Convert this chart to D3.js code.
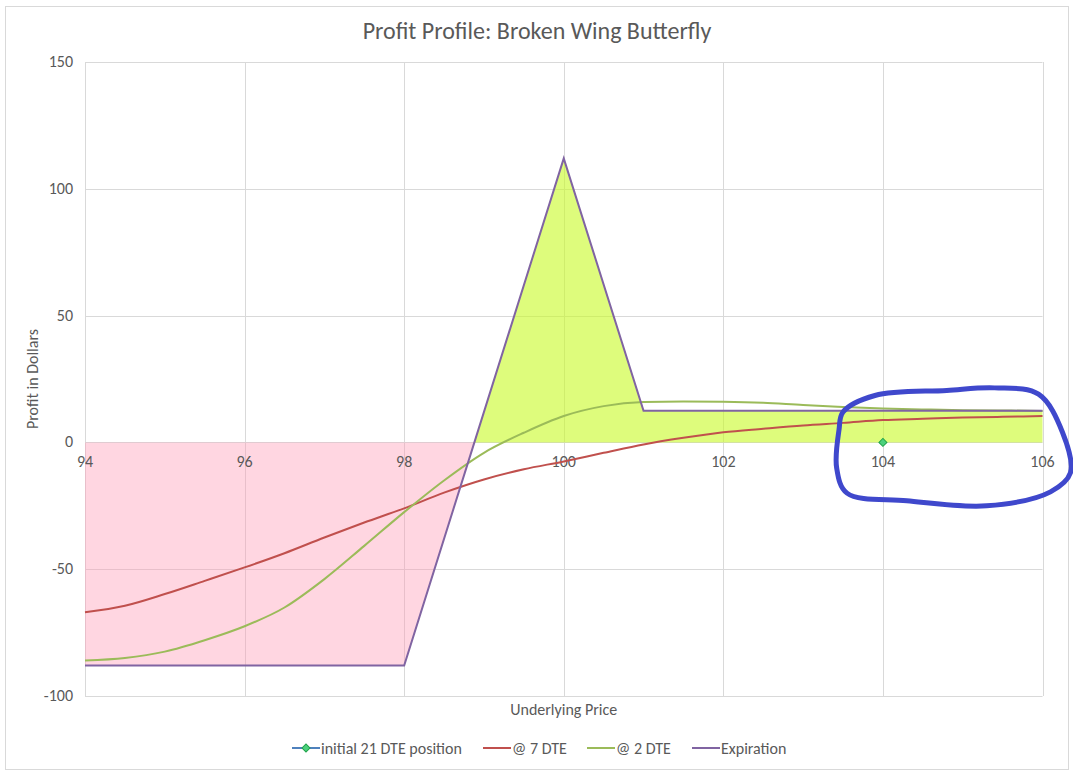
<!DOCTYPE html>
<html>
<head>
<meta charset="utf-8">
<script src="https://cdn.jsdelivr.net/npm/d3@7"></script>
<style>
  body { margin: 0; background: #fff; }
  svg { display: block; font-family: Calibri, Carlito, "Open Sans", "Liberation Sans", sans-serif; }
</style>
</head>
<body>
<div id="chart"></div>
<script>
// underlying prices sampled for the curves
const prices = [94, 94.5, 95, 95.5, 96, 96.5, 97, 97.5, 98, 98.5, 99, 99.5,
                100, 100.5, 101, 101.5, 102, 102.5, 103, 103.5, 104, 104.5, 105, 105.5, 106];

// @ 7 DTE profit
const dte7 = [-67, -64.4, -59.8, -54.6, -49.3, -43.7, -37.5, -31.6, -26, -19.8, -14.6, -10.6,
              -7.5, -4.1, -0.8, 1.8, 4, 5.4, 6.7, 7.7, 8.8, 9.3, 9.8, 10.1, 10.4];

// @ 2 DTE profit
const dte2 = [-86, -85, -82.5, -78, -72.5, -65.1, -53.9, -40.8, -27.5, -15, -4.1, 3.8,
              10.4, 14.3, 15.9, 16.1, 16, 15.6, 14.7, 14, 13.4, 13, 12.7, 12.6, 12.4];

// expiration payoff (breakpoints)
const expPrices = [94, 98, 98.88, 100, 101, 106];
const expProfit = [-88, -88, 0, 112, 12.5, 12.5];

// initial 21 DTE position
const initPrice = [104];
const initProfit = [0];

const xTicks = [94, 96, 98, 100, 102, 104, 106];
const yTicks = [-100, -50, 0, 50, 100, 150];

const legendNames = ["initial 21 DTE position", "@ 7 DTE", "@ 2 DTE", "Expiration"];
const legendColors = ["#4f81bd", "#c0504d", "#9bbb59", "#8064a2"];

const W = 1073, H = 773;
const margin = { left: 85, right: 30.5, top: 62, bottom: 77 };

const svg = d3.select("#chart").append("svg")
    .attr("width", W)
    .attr("height", H);

// chart border
svg.append("rect")
    .attr("x", 5.5).attr("y", 6.5)
    .attr("width", 1063).attr("height", 763)
    .attr("fill", "#fff")
    .attr("stroke", "#d9d9d9");

const x = d3.scaleLinear().domain([94, 106]).range([margin.left, W - margin.right]);
const y = d3.scaleLinear().domain([-100, 150]).range([H - margin.bottom, margin.top]);

// gridlines
svg.append("g").selectAll("line").data(yTicks).join("line")
    .attr("x1", x(94)).attr("x2", x(106))
    .attr("y1", d => Math.round(y(d)) + 0.5).attr("y2", d => Math.round(y(d)) + 0.5)
    .attr("stroke", "#d9d9d9");
svg.append("g").selectAll("line").data(xTicks).join("line")
    .attr("x1", d => Math.round(x(d)) + 0.5).attr("x2", d => Math.round(x(d)) + 0.5)
    .attr("y1", y(150)).attr("y2", y(-100))
    .attr("stroke", "#d9d9d9");

// shaded profit / loss areas under expiration payoff
const expData = expPrices.map((p, i) => ({ p, v: expProfit[i] }));
const lossData = expData.filter(d => d.v <= 0 && d.p <= 98.88);
const gainData = expData.filter(d => d.v >= 0);

const area = d3.area()
    .x(d => x(d.p))
    .y0(y(0))
    .y1(d => y(d.v));

svg.append("path")
    .datum(lossData)
    .attr("d", area)
    .attr("fill", "#ff99b5")
    .attr("fill-opacity", 0.4);

svg.append("path")
    .datum(gainData)
    .attr("d", area)
    .attr("fill", "#c8fa25")
    .attr("fill-opacity", 0.6);

// y axis labels
svg.append("g").selectAll("text").data(yTicks).join("text")
    .attr("x", 73)
    .attr("y", d => y(d) + 5)
    .attr("text-anchor", "end")
    .attr("fill", "#595959")
    .attr("font-size", "16px")
    .text(d => d);

// x axis labels (axis crosses at 0)
svg.append("g").selectAll("text").data(xTicks).join("text")
    .attr("x", d => x(d))
    .attr("y", y(0) + 25)
    .attr("text-anchor", "middle")
    .attr("fill", "#595959")
    .attr("font-size", "16px")
    .text(d => d);

// series lines
const line = d3.line().x(d => x(d[0])).y(d => y(d[1])).curve(d3.curveMonotoneX);
const straight = d3.line().x(d => x(d[0])).y(d => y(d[1]));

svg.append("path")
    .datum(prices.map((p, i) => [p, dte7[i]]))
    .attr("d", line)
    .attr("fill", "none")
    .attr("stroke", legendColors[1])
    .attr("stroke-width", 2);

svg.append("path")
    .datum(prices.map((p, i) => [p, dte2[i]]))
    .attr("d", line)
    .attr("fill", "none")
    .attr("stroke", legendColors[2])
    .attr("stroke-width", 2);

svg.append("path")
    .datum(expPrices.map((p, i) => [p, expProfit[i]]))
    .attr("d", straight)
    .attr("fill", "none")
    .attr("stroke", legendColors[3])
    .attr("stroke-width", 2);

// initial position marker (diamond)
const marker = d3.symbol().type(d3.symbolSquare).size(32);
svg.append("g").selectAll("path").data(initPrice).join("path")
    .attr("transform", (d, i) => `translate(${x(d)},${y(initProfit[i])}) rotate(45)`)
    .attr("d", marker)
    .attr("fill", "#4cd07d")
    .attr("stroke", "#1fa34a")
    .attr("stroke-width", 1);

// title
svg.append("text")
    .attr("x", 537)
    .attr("y", 39)
    .attr("text-anchor", "middle")
    .attr("fill", "#595959")
    .attr("font-size", "24px")
    .text("Profit Profile: Broken Wing Butterfly");

// axis titles
svg.append("text")
    .attr("x", x(100))
    .attr("y", 715)
    .attr("text-anchor", "middle")
    .attr("fill", "#595959")
    .attr("font-size", "16px")
    .text("Underlying Price");

svg.append("text")
    .attr("transform", `translate(38,${y(25)}) rotate(-90)`)
    .attr("text-anchor", "middle")
    .attr("fill", "#595959")
    .attr("font-size", "16px")
    .text("Profit in Dollars");

// legend
const legendX = [292, 483, 587, 692];
const legend = svg.append("g");
legendNames.forEach((name, i) => {
    const g = legend.append("g").attr("transform", `translate(${legendX[i]},748)`);
    g.append("line")
        .attr("x1", 0).attr("x2", 28)
        .attr("stroke", legendColors[i])
        .attr("stroke-width", 2);
    if (i === 0) {
        g.append("path")
            .attr("transform", "translate(14,0) rotate(45)")
            .attr("d", marker)
            .attr("fill", "#4cd07d")
            .attr("stroke", "#1fa34a");
    }
    g.append("text")
        .attr("x", 29)
        .attr("y", 5.5)
        .attr("fill", "#595959")
        .attr("font-size", "16px")
        .text(name);
});

// hand-drawn annotation loop around the 104-106 region (data units)
const loopX = [103.5, 103.9, 104.8, 105.4, 105.95, 106.25, 106.35, 106.1, 105.3, 104.3, 103.55, 103.42, 103.45];
const loopY = [12, 18.5, 20.5, 21.5, 19, 4, -12, -19.5, -25, -23, -20, -10, 5];
svg.append("path")
    .datum(loopX.map((p, i) => [p, loopY[i]]))
    .attr("d", d3.line().x(d => x(d[0])).y(d => y(d[1])).curve(d3.curveCatmullRomClosed))
    .attr("fill", "none")
    .attr("stroke", "#3f48cc")
    .attr("stroke-width", 5)
    .attr("stroke-linecap", "round");
</script>
</body>
</html>
